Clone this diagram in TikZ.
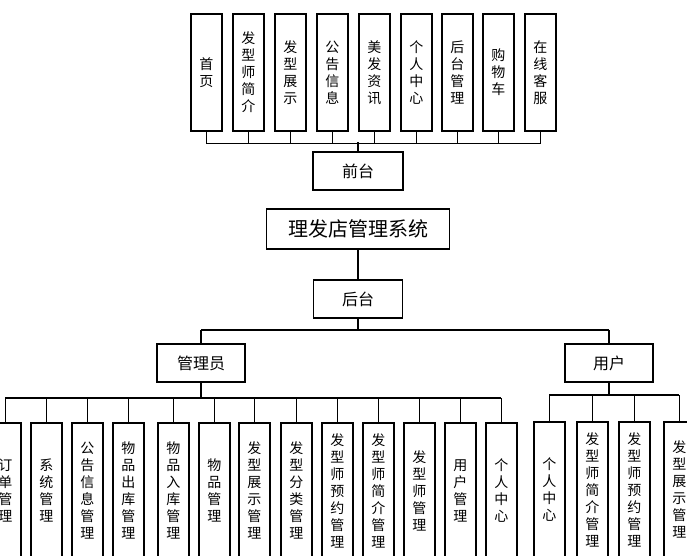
\documentclass[tikz,border=0pt]{standalone}
\usepackage{fontspec}
\setmainfont{Noto Sans CJK SC}
\usetikzlibrary{calc}
\begin{document}
\begin{tikzpicture}[x=1pt,y=-1pt,line width=1.6pt,
  vbox/.style={draw,minimum width=31pt,inner sep=0pt,font=\fontsize{14}{17}\selectfont,align=center,anchor=north west},
  hbox/.style={draw,inner sep=0pt,font=\fontsize{16}{18}\selectfont}]
\useasboundingbox (0,0) rectangle (687,555);
\begin{scope}
\clip (0,0) rectangle (687,555);
% top
\foreach \x/\t [count=\i] in {190/首\\页,232/发\\型\\师\\简\\介,274/发\\型\\展\\示,316/公\\告\\信\\息,358/美\\发\\资\\讯,400/个\\人\\中\\心,441/后\\台\\管\\理,482/购\\物\\车,524/在\\线\\客\\服}
  {\node[vbox,minimum height=117pt] (t\i) at (\x,13) {\t};
   \draw (t\i.south) -- ++(0,12);}
\draw (t1.south) ++(0,12) -- ($(t9.south)+(0,12)$);
\node[hbox,minimum width=90pt,minimum height=38pt] (qt) at (358,171) {前台};
\draw (358,142) -- (qt.north);
\node[draw,inner sep=0pt,minimum width=183pt,minimum height=40pt,font=\fontsize{20}{22}\selectfont] (sys) at (358,229) {理发店管理系统};
\node[hbox,minimum width=89pt,minimum height=38pt] (ht) at (358,299) {后台};
\draw (sys.south) -- (ht.north);
\node[hbox,minimum width=88pt,minimum height=38pt] (adm) at (201,363) {管理员};
\node[hbox,minimum width=88pt,minimum height=38pt] (usr) at (609,363) {用户};
\draw (ht.south) -- (358,330);
\draw (201,330) -- (609,330);
\draw (adm.north) -- (201,330);
\draw (usr.north) -- (609,330);
% admin children
\foreach \x/\t [count=\i] in {-11/订\\单\\管\\理,30/系\\统\\管\\理,71/公\\告\\信\\息\\管\\理,112/物\\品\\出\\库\\管\\理,157/物\\品\\入\\库\\管\\理,198/物\\品\\管\\理,238/发\\型\\展\\示\\管\\理,280/发\\型\\分\\类\\管\\理,321/发\\型\\师\\预\\约\\管\\理,362/发\\型\\师\\简\\介\\管\\理,403/发\\型\\师\\管\\理,444/用\\户\\管\\理,485/个\\人\\中\\心}
  {\node[vbox,minimum height=136pt] (a\i) at (\x,422) {\t};
   \draw (a\i.north) -- ++(0,-24);}
\draw (a1.north) ++(0,-24) -- ($(a13.north)+(0,-24)$);
\draw (adm.south) -- (201,398);
% user children
\foreach \x/\t [count=\i] in {533/个\\人\\中\\心,576/发\\型\\师\\简\\介\\管\\理,618/发\\型\\师\\预\\约\\管\\理,663/发\\型\\展\\示\\管\\理}
  {\node[vbox,minimum height=136pt] (u\i) at (\x,421) {\t};
   \draw (u\i.north) -- ++(0,-26);}
\draw (u1.north) ++(0,-26) -- ($(u4.north)+(0,-26)$);
\draw (usr.south) -- (609,395);
\end{scope}
\end{tikzpicture}
\end{document}
